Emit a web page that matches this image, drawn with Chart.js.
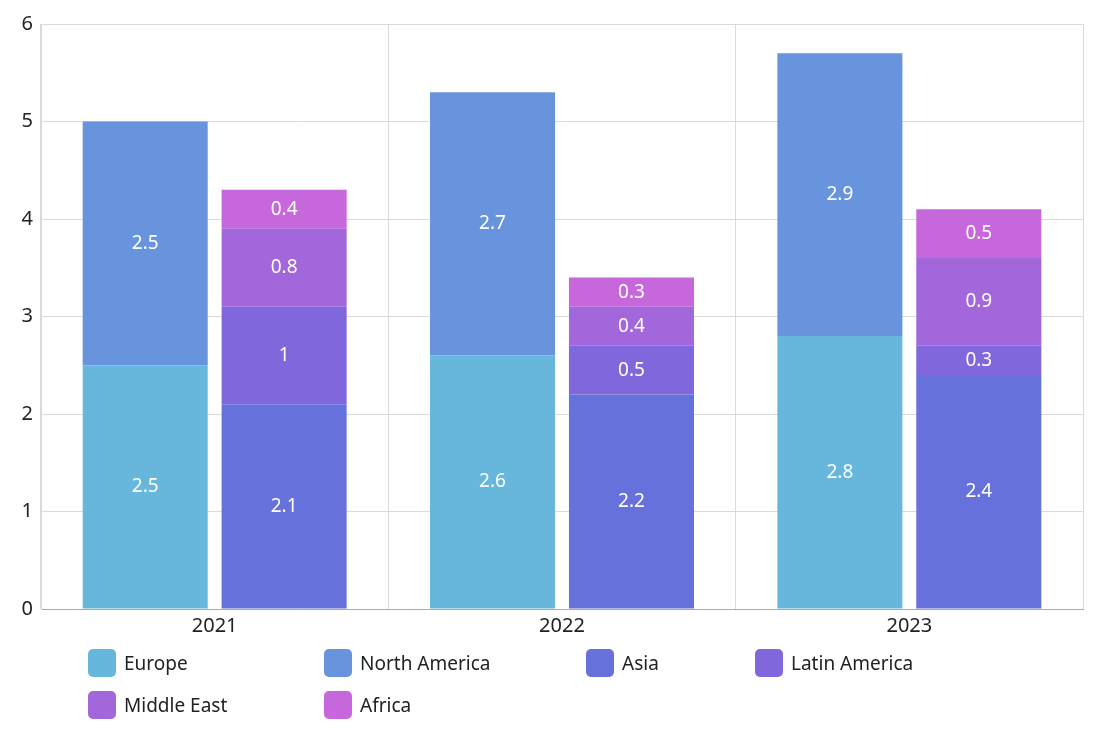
<!DOCTYPE html>
<html>
<head>
<meta charset="utf-8">
<script src="https://cdn.jsdelivr.net/npm/chart.js@4"></script>
<style>
  html, body { margin: 0; padding: 0; background: #fff; }
  #wrap { position: relative; width: 1113px; height: 750px; }
  #legend {
    position: absolute; left: 88px; top: 649px;
    display: grid; grid-template-columns: 236px 262px 169px auto;
    row-gap: 14px;
    font-family: "Noto Sans", sans-serif; font-size: 19px; color: #222;
  }
  .item { display: flex; align-items: center; height: 28px; }
  .box { width: 28px; height: 28px; border-radius: 5px; margin-right: 8px; }
</style>
</head>
<body>
<div id="wrap">
  <canvas id="chart" width="1113" height="750"></canvas>
  <div id="legend"></div>
</div>
<script>
// Regional values per year
const years = ['2021', '2022', '2023'];
const europe = [2.5, 2.6, 2.8];
const northAmerica = [2.5, 2.7, 2.9];
const asia = [2.1, 2.2, 2.4];
const latinAmerica = [1, 0.5, 0.3];
const middleEast = [0.8, 0.4, 0.9];
const africa = [0.4, 0.3, 0.5];

const FONT = '"Noto Sans", sans-serif';

// Draw the value in the middle of each bar segment
const barLabels = {
  id: 'barLabels',
  afterDatasetsDraw(chart) {
    const ctx = chart.ctx;
    ctx.save();
    ctx.fillStyle = '#ffffff';
    ctx.font = '19px ' + FONT;
    ctx.textAlign = 'center';
    ctx.textBaseline = 'middle';
    chart.data.datasets.forEach((ds, i) => {
      const meta = chart.getDatasetMeta(i);
      meta.data.forEach((bar, j) => {
        const y = (bar.y + bar.base) / 2;
        ctx.fillText(String(ds.data[j]), bar.x, y);
      });
    });
    ctx.restore();
  }
};

function makeSet(label, data, color, stack) {
  return {
    label: label,
    data: data,
    backgroundColor: color,
    borderWidth: 0,
    stack: stack
  };
}

const ctx = document.getElementById('chart').getContext('2d');
const chart = new Chart(ctx, {
  type: 'bar',
  data: {
    labels: years,
    datasets: [
      makeSet('Europe', europe, '#67b7dc', 'a'),
      makeSet('North America', northAmerica, '#6794dc', 'a'),
      makeSet('Asia', asia, '#6771dc', 'b'),
      makeSet('Latin America', latinAmerica, '#8067dc', 'b'),
      makeSet('Middle East', middleEast, '#a367dc', 'b'),
      makeSet('Africa', africa, '#c767dc', 'b')
    ]
  },
  options: {
    responsive: false,
    animation: false,
    layout: { padding: { left: 0, top: 24, right: 30, bottom: 111 } },
    plugins: {
      legend: { display: false },
      tooltip: { enabled: false }
    },
    scales: {
      x: {
        stacked: true,
        grid: { color: '#dadada', drawTicks: false, offset: true },
        border: { color: '#aaaaaa' },
        ticks: { color: '#222', font: { family: FONT, size: 20 }, padding: 5 },
        afterFit: s => { s.height = 30; }
      },
      y: {
        stacked: true,
        min: 0,
        max: 6,
        ticks: { stepSize: 1, color: '#222', font: { family: FONT, size: 20 }, padding: 8 },
        grid: { color: '#dadada', drawTicks: false },
        border: { color: '#dadada' },
        afterFit: s => { s.width = 41; }
      }
    }
  },
  plugins: [barLabels]
});

// HTML legend built from the datasets
const legend = document.getElementById('legend');
chart.data.datasets.forEach(ds => {
  const item = document.createElement('div');
  item.className = 'item';
  const box = document.createElement('span');
  box.className = 'box';
  box.style.background = ds.backgroundColor;
  const text = document.createElement('span');
  text.textContent = ds.label;
  item.appendChild(box);
  item.appendChild(text);
  legend.appendChild(item);
});
</script>
</body>
</html>
